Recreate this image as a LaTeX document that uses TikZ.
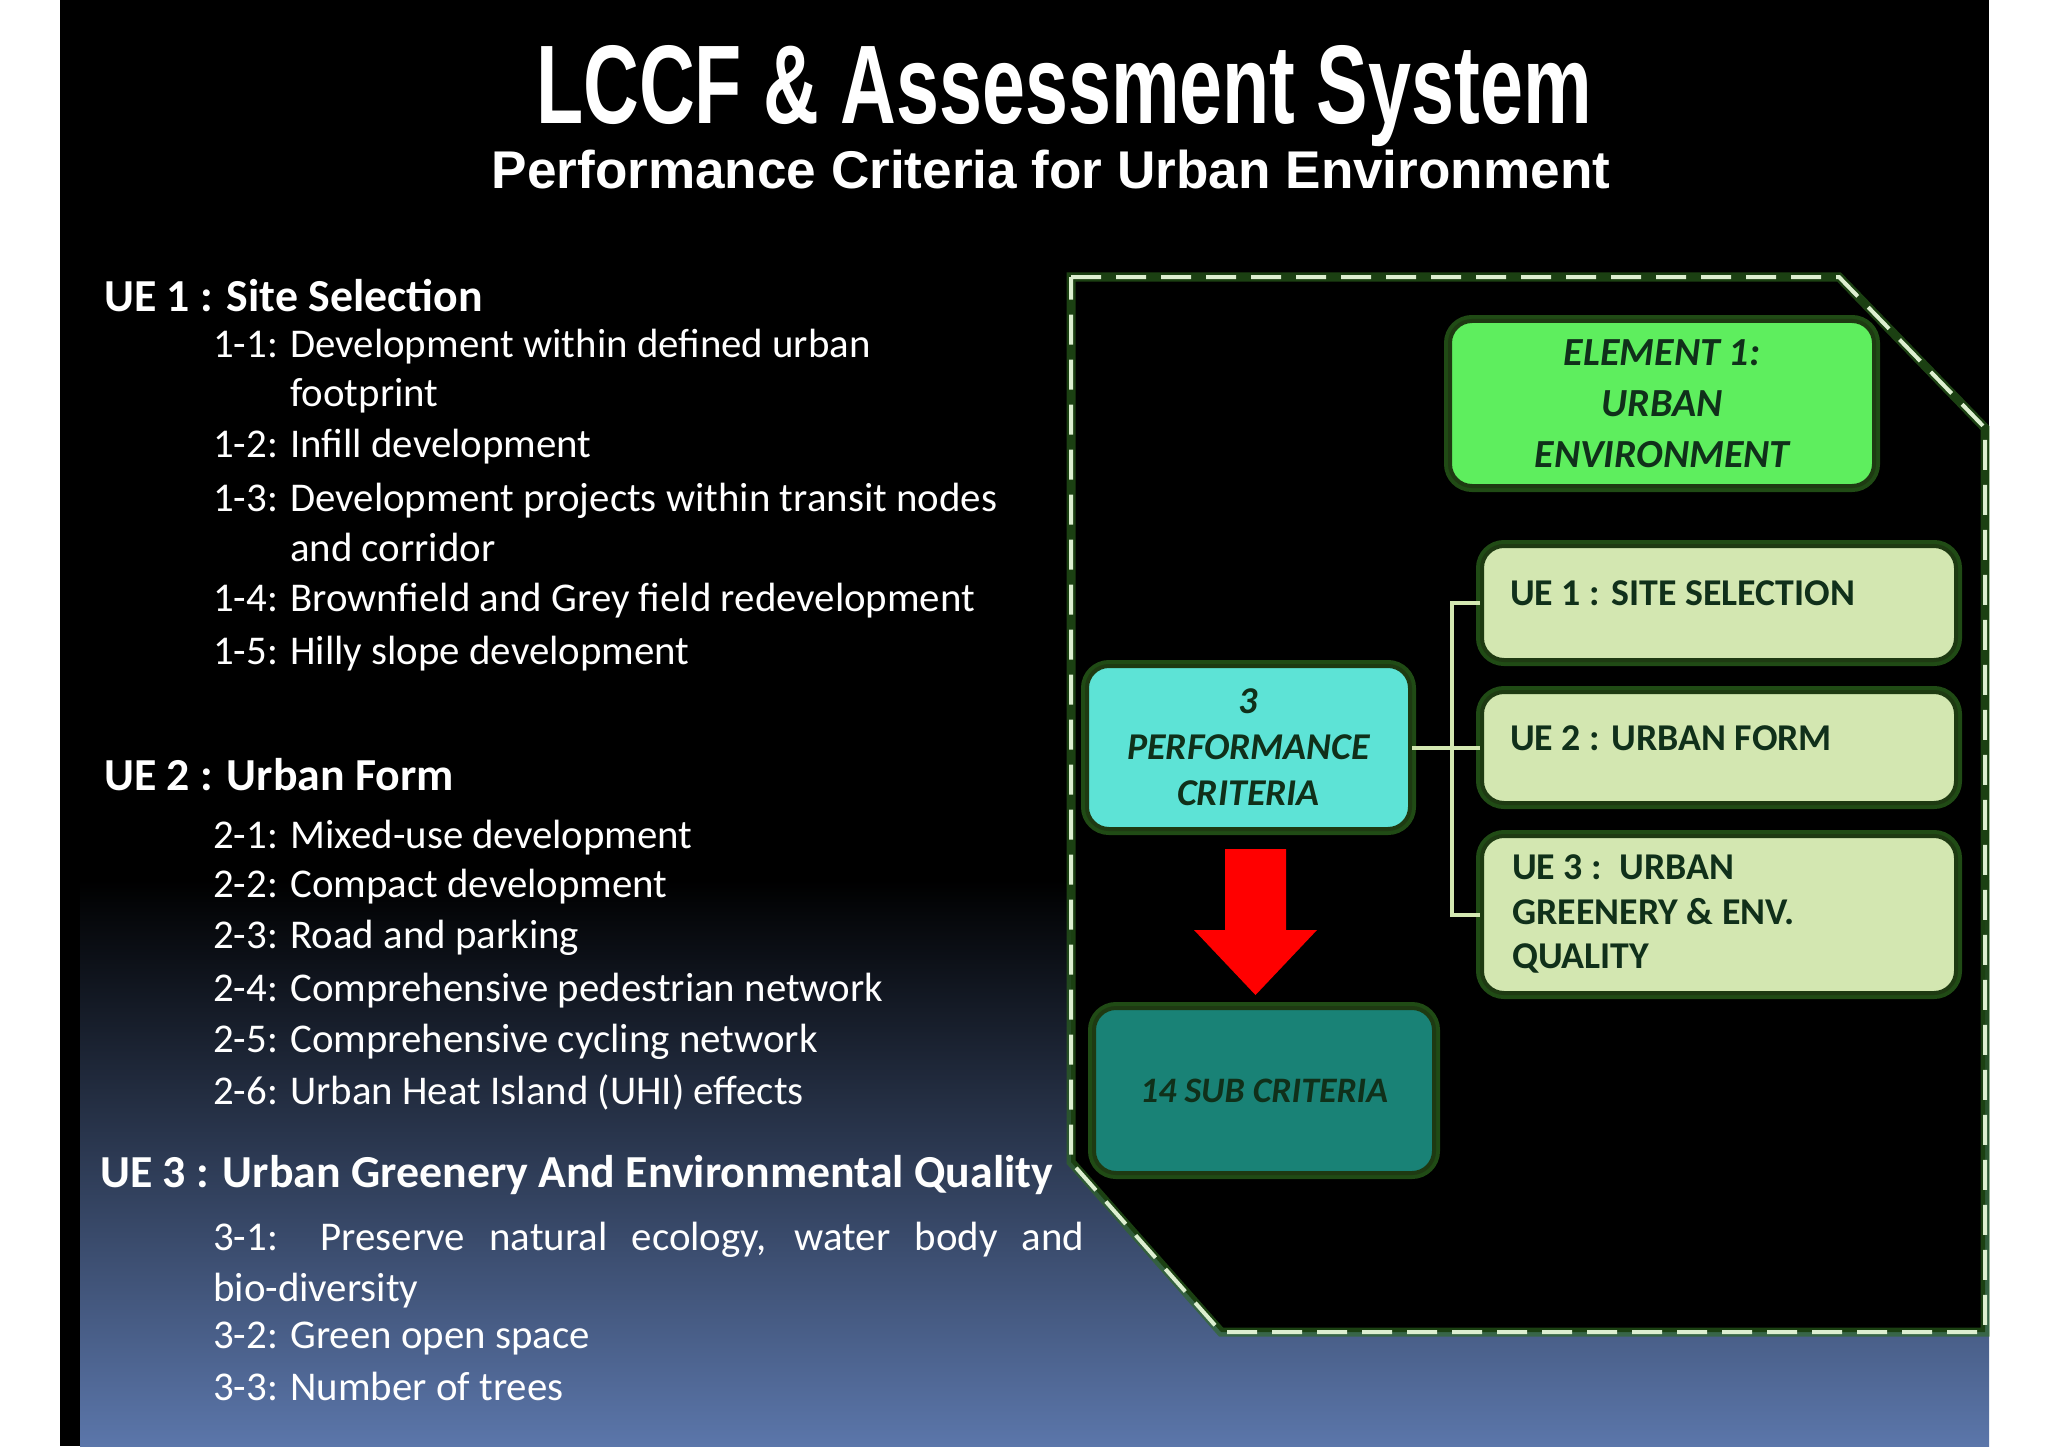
\documentclass[tikz,border=0pt]{standalone}
\usepackage{fontspec}
\setmainfont{Carlito}
\newfontfamily\arialf{Liberation Sans}
\usetikzlibrary{shapes.geometric}
\definecolor{bluebot}{HTML}{5B76AA}
\definecolor{elgreen}{HTML}{5EEE5E}
\definecolor{uegreen}{HTML}{D3E7B1}
\definecolor{perfcyan}{HTML}{5DE3D6}
\definecolor{subteal}{HTML}{198276}
\definecolor{boxedge}{HTML}{1E3A12}
\definecolor{glow}{HTML}{2E6B1E}
\definecolor{dashc}{HTML}{DDEFD0}
\definecolor{txtdark}{HTML}{10301A}
\tikzset{
  item/.style={anchor=mid west,text=white,font=\fontsize{41}{50}\selectfont,inner sep=0pt},
  head/.style={anchor=mid west,text=white,font=\fontsize{46}{52}\selectfont\bfseries,inner sep=0pt},
  box/.style={draw=boxedge,line width=4bp,rounded corners=22bp,inner sep=0pt},
  glowline/.style={draw=glow,line width=12bp,rounded corners=22bp,opacity=0.7},
  btxt/.style={text=txtdark,font=\fontsize{38}{46}\selectfont\bfseries\itshape,align=center,inner sep=0pt},
  utxt/.style={text=txtdark,font=\fontsize{38}{45}\selectfont\bfseries,align=left,inner sep=0pt,anchor=mid west},
  conn/.style={draw=uegreen,line width=4bp}
}
\begin{document}
\begin{tikzpicture}[x=1bp,y=-1bp]
\useasboundingbox (0,0) rectangle (2048,1448);
\fill[white] (0,0) rectangle (2048,1448);
\fill[black] (60,0) rectangle (1989,1446);
\shade[top color=black,bottom color=bluebot] (80,880) rectangle (1989,1446);
% title
\node[text=white,inner sep=0pt] (title) at (1064,96) {\resizebox{1055bp}{78bp}{\arialf\bfseries LCCF \& Assessment System}};
\node[text=white,inner sep=0pt] (sub) at (1051,170) {\resizebox{1118bp}{!}{\arialf\bfseries Performance Criteria for Urban Environment}};
% left text
\node[head] (h1) at (104,309) {UE 1 : Site Selection};
\node[item] (i11) at (213,355) {1-1: Development within defined urban};
\node[item] (i11b) at (290,404) {footprint};
\node[item] (i12) at (213,455) {1-2: Infill development};
\node[item] (i13) at (213,509) {1-3: Development projects within transit nodes};
\node[item] (i13b) at (290,559) {and corridor};
\node[item] (i14) at (213,609) {1-4: Brownfield and Grey field redevelopment};
\node[item] (i15) at (213,662) {1-5: Hilly slope development};
\node[head] (h2) at (104,788) {UE 2 : Urban Form};
\node[item] (i21) at (213,846) {2-1: Mixed-use development};
\node[item] (i22) at (213,895) {2-2: Compact development};
\node[item] (i23) at (213,946) {2-3: Road and parking};
\node[item] (i24) at (213,999) {2-4: Comprehensive pedestrian network};
\node[item] (i25) at (213,1050) {2-5: Comprehensive cycling network};
\node[item] (i26) at (213,1102) {2-6: Urban Heat Island (UHI) effects};
\node[head] (h3) at (100,1185) {UE 3 : Urban Greenery And Environmental Quality};
\node[item,anchor=north west,text width=871bp,align=justify,font=\fontsize{41}{51}\selectfont] (i31) at (213,1222) {3-1: Preserve natural ecology, water body and \mbox{bio-diversity}};
\node[item] (i32) at (213,1346) {3-2: Green open space};
\node[item] (i33) at (213,1398) {3-3: Number of trees};
% panel
\fill[black] (1071,277) -- (1839,277) -- (1985,428) -- (1985,1332) -- (1221,1332) -- (1071,1162) -- cycle;
\draw[glow,line width=9bp,opacity=0.6] (1071,277) -- (1839,277) -- (1985,428) -- (1985,1332) -- (1221,1332) -- (1071,1162) -- cycle;
\draw[dashc,line width=4bp,dash pattern=on 30bp off 15bp] (1071,277) -- (1839,277) -- (1985,428) -- (1985,1332) -- (1221,1332) -- (1071,1162) -- cycle;
% boxes glow
\draw[glowline] (1450,321) rectangle (1874,486);
\draw[glowline] (1482,546) rectangle (1956,660);
\draw[glowline] (1482,692) rectangle (1956,803);
\draw[glowline] (1482,836) rectangle (1956,993);
\draw[glowline] (1087,666) rectangle (1410,829);
\draw[glowline] (1094,1008) rectangle (1434,1173);
% boxes
\node[box,fill=elgreen,minimum width=424bp,minimum height=165bp] (el) at (1662,403.5) {};
\node[btxt,font=\fontsize{40}{51}\selectfont\bfseries\itshape] at (el.center) {ELEMENT 1:\\URBAN\\ENVIRONMENT};
\node[box,fill=uegreen,minimum width=474bp,minimum height=114bp] (ue1) at (1719,603) {};
\node[utxt] at (1510,603) {UE 1 : SITE SELECTION};
\node[box,fill=uegreen,minimum width=474bp,minimum height=111bp] (ue2) at (1719,747.5) {};
\node[utxt] at (1510,748) {UE 2 : URBAN FORM};
\node[box,fill=uegreen,minimum width=474bp,minimum height=157bp] (ue3) at (1719,914.5) {};
\node[utxt,anchor=west] at (1512,914) {UE 3 :\ \ URBAN\\GREENERY \& ENV.\\QUALITY};
\node[box,fill=perfcyan,minimum width=323bp,minimum height=163bp] (perf) at (1248.5,747.5) {};
\node[btxt] at (perf.center) {3\\PERFORMANCE\\CRITERIA};
\node[box,fill=subteal,minimum width=340bp,minimum height=165bp] (subc) at (1264,1090.5) {};
\node[btxt,font=\fontsize{36}{44}\selectfont\bfseries\itshape] at (subc.center) {14 SUB CRITERIA};
% bracket
\coordinate (bj) at (1452,747.5);
\draw[conn] (perf.east) -- (bj);
\draw[conn] (ue1.west) -- (1452,603) -- (1452,914.5) -- (ue3.west);
\draw[conn] (bj) -- (ue2.west);
% red arrow
\fill[red] (1225,849) -- (1286,849) -- (1286,930) -- (1317,930) -- (1255.5,995) -- (1194,930) -- (1225,930) -- cycle;
\end{tikzpicture}
\end{document}
